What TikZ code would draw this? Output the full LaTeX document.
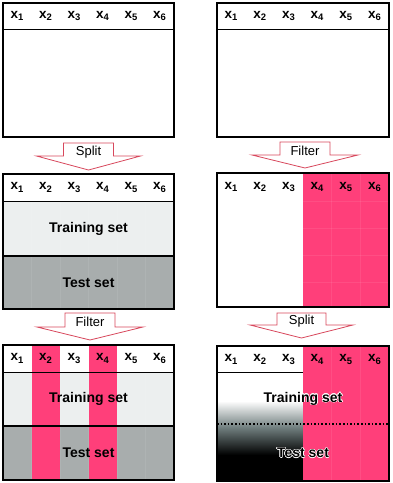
\documentclass[tikz,border=0pt]{standalone}
\usepackage{fontspec}
\setmainfont{Liberation Sans}
\usepackage[copies]{contour}
\contourlength{0.5pt}
\usepackage{tikz}
\usetikzlibrary{calc}
\definecolor{pinkx}{HTML}{FF3F7A}
\definecolor{arrowred}{HTML}{D8475C}
\definecolor{trainbg}{HTML}{ECEFEF}
\definecolor{testbg}{HTML}{A8ADAD}
\definecolor{midgrey}{HTML}{6E7C7C}
\tikzset{
  frame/.style={draw=black,line width=1.8pt},
  hline/.style={draw=black,line width=0.8pt},
  divline/.style={draw=black,line width=1.6pt},
  gridln/.style={draw=white,opacity=0.08,line width=0.6pt},
  barrow/.style={draw=arrowred,line width=0.8pt,fill=white,line join=miter},
  xlab/.style={font=\fontsize{13.5}{15}\selectfont\bfseries,inner sep=0pt},
  setlab/.style={font=\fontsize{14}{16}\selectfont\bfseries,inner sep=0pt},
  arlab/.style={font=\fontsize{13}{15}\selectfont,inner sep=0pt}
}
\begin{document}
\begin{tikzpicture}[x=1pt,y=-1pt]
\useasboundingbox (0,0) rectangle (392,483);
% left column: split, then filter
\draw[frame] (3,3) rectangle (174,137);
\draw[hline] (3,29)--(174,29);
\foreach \i in {1,...,6}
  \node[xlab] (la\i) at (28.5*\i-11.25,16) {x\textsubscript{\i}};
\draw[barrow] (63.5,143)--(113.5,143)--(113.5,156)--(140.5,156)--(88.5,170)--(36.5,156)--(63.5,156)--cycle;
\node[arlab] (splitL) at (88.5,152) {Split};
\fill[trainbg] (3,201) rectangle (174,256);
\fill[testbg] (3,256) rectangle (174,309);
\foreach \i in {1,...,5}
  \draw[gridln] (3+28.5*\i,201)--(3+28.5*\i,309);
\draw[hline] (3,201)--(174,201);
\draw[divline] (3,256)--(174,256);
\draw[frame] (3,174) rectangle (174,309);
\foreach \i in {1,...,6}
  \node[xlab] (lb\i) at (28.5*\i-11.25,187.5) {x\textsubscript{\i}};
\node[setlab] (trainL) at (88.5,228.5) {Training set};
\node[setlab] (testL) at (88.5,283) {Test set};
\draw[barrow] (65,313)--(115,313)--(115,327)--(143,327)--(90,340)--(37,327)--(65,327)--cycle;
\node[arlab] (filterL) at (90,322) {Filter};
\fill[trainbg] (3,372) rectangle (174,426);
\fill[testbg] (3,426) rectangle (174,480);
\foreach \i in {1,...,5}
  \draw[gridln] (3+28.5*\i,372)--(3+28.5*\i,480);
\fill[pinkx] (31.5,345) rectangle (60,480);
\fill[pinkx] (88.5,345) rectangle (117,480);
\draw[hline] (3,372)--(174,372);
\draw[divline] (3,426)--(174,426);
\draw[frame] (3,345) rectangle (174,480);
\foreach \i in {1,...,6}
  \node[xlab] (lc\i) at (28.5*\i-11.25,358.5) {x\textsubscript{\i}};
\node[setlab] (trainLf) at (88.5,399) {Training set};
\node[setlab] (testLf) at (88.5,453) {Test set};
% right column: filter, then split
\draw[frame] (217,3) rectangle (389,137);
\draw[hline] (217,29)--(389,29);
\foreach \i in {1,...,6}
  \node[xlab] (ra\i) at (28.67*\i+202.67,16) {x\textsubscript{\i}};
\draw[barrow] (280,142)--(330,142)--(330,155)--(358,155)--(305,168)--(252,155)--(280,155)--cycle;
\node[arlab] (filterR) at (305,151) {Filter};
\fill[pinkx] (303,173) rectangle (389,307);
\foreach \i in {4,5}
  \draw[gridln] (217+28.67*\i,173)--(217+28.67*\i,307);
\foreach \y in {201,228,255,282}
  \draw[gridln] (303,\y)--(389,\y);
\draw[frame] (217,173) rectangle (389,307);
\foreach \i in {1,...,6}
  \node[xlab] (rb\i) at (28.67*\i+202.67,187) {x\textsubscript{\i}};
\draw[barrow] (277,313)--(326,313)--(326,325)--(353,325)--(301.5,338)--(250,325)--(277,325)--cycle;
\node[arlab] (splitR) at (301.5,321) {Split};
\fill[white] (217,372) rectangle (303,401);
\shade[top color=white,bottom color=black,middle color=midgrey] (217,401) rectangle (303,455);
\fill[black] (217,455) rectangle (303,481);
\fill[pinkx] (303,346) rectangle (389,481);
\foreach \i in {4,5}
  \draw[gridln] (217+28.67*\i,346)--(217+28.67*\i,481);
\draw[hline] (217,372)--(303,372);
\draw[black,line width=1.6pt,dotted] (217,424)--(389,424);
\draw[frame] (217,346) rectangle (389,481);
\foreach \i in {1,...,6}
  \node[xlab] (rc\i) at (28.67*\i+202.67,359.5) {x\textsubscript{\i}};
\node[setlab] (trainR) at (303,399) {\contour{white}{Training set}};
\node[setlab] (testR) at (303,453) {\contour{white}{Test set}};
\end{tikzpicture}
\end{document}
